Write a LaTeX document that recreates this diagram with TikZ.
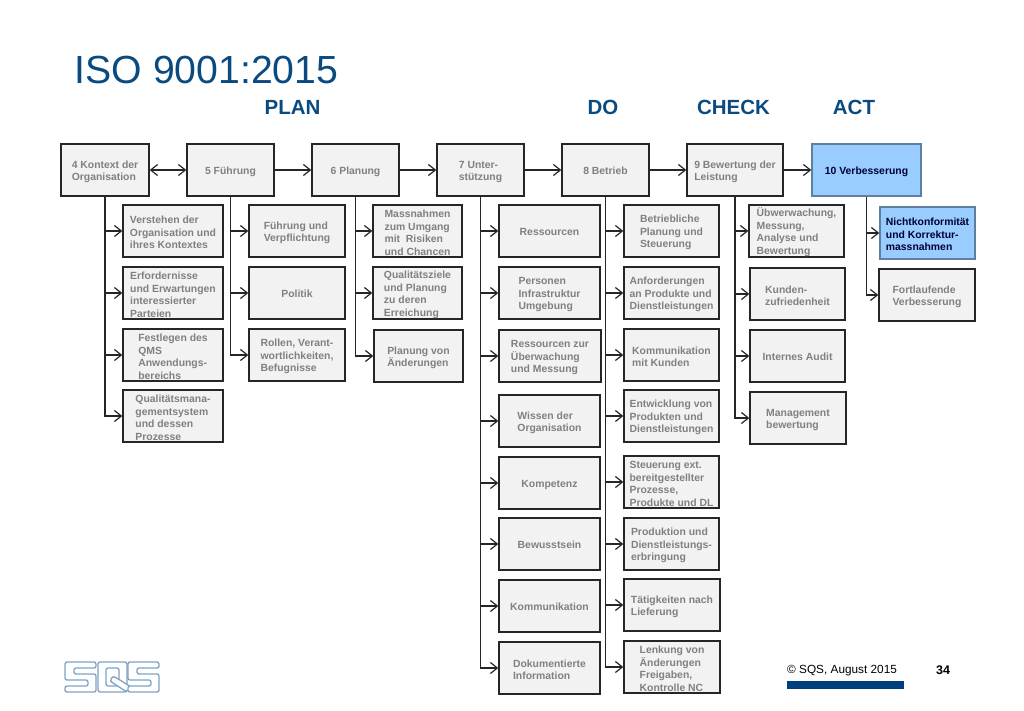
\documentclass[tikz,border=0pt]{standalone}
\usepackage{fontspec}
\setmainfont{Liberation Sans}
\usetikzlibrary{arrows.meta}
\definecolor{sqsblue}{HTML}{0A4A80}
\definecolor{sqsbar}{HTML}{003F7D}
\definecolor{boxgrey}{HTML}{F2F2F2}
\definecolor{boxblue}{HTML}{99CCFF}
\definecolor{boxedge}{HTML}{5F7F9F}
\definecolor{logoline}{HTML}{7FA3C4}
\newcommand{\st}{\rule[-2.3pt]{0pt}{13.2pt}}
\tikzset{
  boxbase/.style={draw=black!85,line width=1.3pt,fill=boxgrey,inner sep=0pt,align=left,
    text=black!50,font=\bfseries\fontsize{10.4}{12.5}\selectfont},
  topbox/.style={boxbase,minimum width=87pt,minimum height=52pt},
  widebox/.style={boxbase,minimum width=100pt,minimum height=52pt},
  midbox/.style={boxbase,minimum width=95pt,minimum height=52pt},
  narrowbox/.style={boxbase,minimum width=89pt,minimum height=52pt},
  activebox/.style={draw=boxedge,fill=boxblue,text=black!80!blue},
  heading/.style={text=sqsblue,font=\bfseries\fontsize{20.5}{24}\selectfont,inner sep=0pt},
  footer/.style={text=black,font=\fontsize{11.8}{15}\selectfont,inner sep=0pt},
  arr/.style={draw=black!85,line width=1.3pt,-{Straight Barb[length=7pt,width=11pt,line width=1.2pt]}},
  darr/.style={draw=black!85,line width=1.3pt,{Straight Barb[length=7pt,width=11pt,line width=1.2pt]}-{Straight Barb[length=7pt,width=11pt,line width=1.2pt]}},
  logo/.style={draw=logoline,line width=1.3pt,fill=white,rounded corners=2pt,even odd rule}
}
\begin{document}
\begin{tikzpicture}[x=1pt,y=-1pt]
\useasboundingbox (0,0) rectangle (1024,710);
% title and phases
\node[anchor=west,inner sep=0pt,text=sqsblue,font=\fontsize{39.2}{45}\selectfont] (title) at (74.5,70) {ISO 9001:2015};
\node[heading] (plan) at (292.5,107) {PLAN};
\node[heading] (do) at (603,107) {DO};
\node[heading] (check) at (733.5,107) {CHECK};
\node[heading] (act) at (854,107) {ACT};
% top row
\node[topbox,minimum width=88pt] (k4) at (105,170) {\st 4 Kontext der\\Organisation};
\node[topbox] (k5) at (230.5,170) {\st 5 Führung};
\node[topbox] (k6) at (355.5,170) {\st 6 Planung};
\node[topbox] (k7) at (480.5,170) {\st 7 Unter-\\stützung};
\node[topbox] (k8) at (605.5,170) {\st 8 Betrieb};
\node[topbox,minimum width=96pt] (k9) at (735,170) {\st 9 Bewertung der\\Leistung};
\node[topbox,activebox,minimum width=109pt] (k10) at (866.5,170) {\st 10 Verbesserung};
% kapitel 4
\node[widebox] (c41) at (173,231) {\st Verstehen der\\Organisation und\\ihres Kontextes};
\node[widebox] (c42) at (173,293) {\st Erfordernisse\\und Erwartungen\\interessierter\\Parteien};
\node[widebox] (c43) at (173,355) {\st Festlegen des\\QMS\\Anwendungs-\\bereichs};
\node[widebox] (c44) at (173,416) {\st Qualitätsmana-\\gementsystem\\und dessen\\Prozesse};
% kapitel 5
\node[midbox,minimum width=96pt] (c51) at (297,231) {\st Führung und\\Verpflichtung};
\node[midbox,minimum width=96pt] (c52) at (297,293) {\st Politik};
\node[midbox,minimum width=96pt] (c53) at (297,355) {\st Rollen, Verant-\\wortlichkeiten,\\Befugnisse};
% kapitel 6
\node[narrowbox] (c61) at (417.5,231) {\st Massnahmen\\zum Umgang\\mit\ \ Risiken\\und Chancen};
\node[narrowbox] (c62) at (417.5,293) {\st Qualitätsziele\\und Planung\\zu deren\\Erreichung};
\node[narrowbox] (c63) at (418.5,356) {\st Planung von\\Änderungen};
% kapitel 7
\node[widebox,minimum width=101pt] (c71) at (549.5,231) {\st Ressourcen};
\node[widebox,minimum width=101pt] (c72) at (549.5,293) {\st Personen\\Infrastruktur\\Umgebung};
\node[widebox,minimum width=102pt] (c73) at (550,356) {\st Ressourcen zur\\Überwachung\\und Messung};
\node[widebox,minimum width=101pt] (c74) at (549.5,421) {\st Wissen der\\Organisation};
\node[widebox,minimum width=101pt] (c75) at (549.5,483) {\st Kompetenz};
\node[widebox,minimum width=101pt] (c76) at (549.5,544) {\st Bewusstsein};
\node[widebox,minimum width=101pt] (c77) at (549.5,606) {\st Kommunikation};
\node[widebox,minimum width=101pt] (c78) at (549.5,668) {\st Dokumentierte\\Information};
% kapitel 8
\node[midbox] (c81) at (671.5,231) {\st Betriebliche\\Planung und\\Steuerung};
\node[midbox] (c82) at (671.5,293) {\st Anforderungen\\an Produkte und\\Dienstleistungen};
\node[midbox] (c83) at (671.5,355) {\st Kommunikation\\mit Kunden};
\node[midbox] (c84) at (671.5,416) {\st Entwicklung von\\Produkten und\\Dienstleistungen};
\node[midbox] (c85) at (671.5,482) {\st Steuerung ext.\\bereitgestellter\\Prozesse,\\Produkte und DL};
\node[midbox] (c86) at (671.5,544) {\st Produktion und\\Dienstleistungs-\\erbringung};
\node[midbox,minimum width=96pt] (c87) at (672,605) {\st Tätigkeiten nach\\Lieferung};
\node[midbox,minimum width=96pt] (c88) at (672,667) {\st Lenkung von\\Änderungen\\Freigaben,\\Kontrolle NC};
% kapitel 9
\node[midbox] (c91) at (796.5,231) {\st Übwerwachung,\\Messung,\\Analyse und\\Bewertung};
\node[midbox] (c92) at (797.5,294) {\st Kunden-\\zufriedenheit};
\node[midbox] (c93) at (797.5,356) {\st Internes Audit};
\node[midbox,minimum width=96pt] (c94) at (798,418) {\st Management\\bewertung};
% kapitel 10
\node[midbox,activebox] (c101) at (927.5,233) {\st Nichtkonformität\\und Korrektur-\\massnahmen};
\node[midbox,minimum width=96pt] (c102) at (927,295) {\st Fortlaufende\\Verbesserung};
% top connectors
\draw[darr] (k4) -- (k5);
\draw[arr] (k5) -- (k6);
\draw[arr] (k6) -- (k7);
\draw[arr] (k7) -- (k8);
\draw[arr] (k8) -- (k9);
\draw[arr] (k9) -- (k10);
% branches
\draw[arr] (k4.south) |- (c41.west);
\draw[arr] (k4.south) |- (c42.west);
\draw[arr] (k4.south) |- (c43.west);
\draw[arr] (k4.south) |- (c44.west);
\draw[arr] (k5.south) |- (c51.west);
\draw[arr] (k5.south) |- (c52.west);
\draw[arr] (k5.south) |- (c53.west);
\draw[arr] (k6.south) |- (c61.west);
\draw[arr] (k6.south) |- (c62.west);
\draw[arr] (k6.south) |- (c63.west);
\draw[arr] (k7.south) |- (c71.west);
\draw[arr] (k7.south) |- (c72.west);
\draw[arr] (k7.south) |- (c73.west);
\draw[arr] (k7.south) |- (c74.west);
\draw[arr] (k7.south) |- (c75.west);
\draw[arr] (k7.south) |- (c76.west);
\draw[arr] (k7.south) |- (c77.west);
\draw[arr] (k7.south) |- (c78.west);
\draw[arr] (k8.south) |- (c81.west);
\draw[arr] (k8.south) |- (c82.west);
\draw[arr] (k8.south) |- (c83.west);
\draw[arr] (k8.south) |- (c84.west);
\draw[arr] (k8.south) |- (c85.west);
\draw[arr] (k8.south) |- (c86.west);
\draw[arr] (k8.south) |- (c87.west);
\draw[arr] (k8.south) |- (c88.west);
\draw[arr] (k9.south) |- (c91.west);
\draw[arr] (k9.south) |- (c92.west);
\draw[arr] (k9.south) |- (c93.west);
\draw[arr] (k9.south) |- (c94.west);
\draw[arr] (k10.south) |- (c101.west);
\draw[arr] (k10.south) |- (c102.west);
% footer
\node[footer,anchor=west] (copy) at (787,670.5) {© SQS, August 2015};
\node[footer,anchor=west,font=\bfseries\fontsize{12.5}{15}\selectfont] (page) at (936,670) {34};
\fill[sqsbar] (787,681) rectangle (904,689);
% logo
\path[logo] (65,662) -- (96,662) -- (96,668) -- (74,668) -- (74,674) -- (96,674) -- (96,692) -- (65,692) -- (65,686) -- (88,686) -- (88,680) -- (65,680) -- cycle;
\path[logo] (98,662) -- (127,662) -- (127,692) -- (98,692) -- cycle (106,668) -- (119,668) -- (119,686) -- (106,686) -- cycle;
\path[logo] (113,676) -- (120,680) -- (131,687) -- (127,692) -- (116,685) -- (110,681) -- cycle;
\path[logo] (128,662) -- (159,662) -- (159,668) -- (137,668) -- (137,674) -- (159,674) -- (159,692) -- (128,692) -- (128,686) -- (151,686) -- (151,680) -- (128,680) -- cycle;
\end{tikzpicture}
\end{document}
